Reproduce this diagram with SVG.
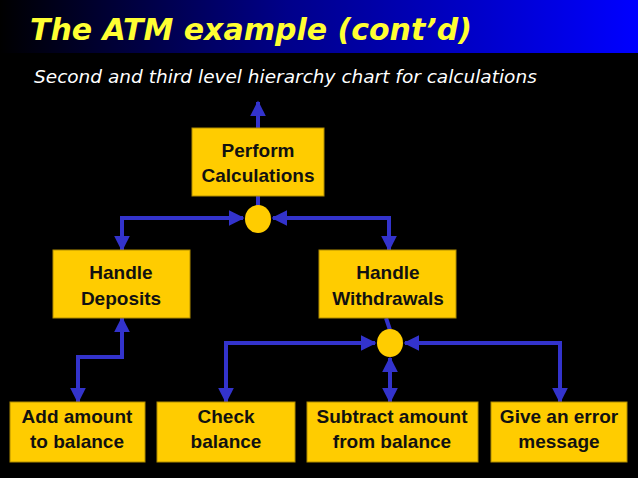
<svg xmlns="http://www.w3.org/2000/svg" width="638" height="478" viewBox="0 0 638 478">
<defs>
<linearGradient id="bar" x1="0" y1="0" x2="1" y2="0"><stop offset="0" stop-color="#000000"/><stop offset="0.45" stop-color="#00008a"/><stop offset="1" stop-color="#0000ff"/></linearGradient>
<marker id="ah" viewBox="0 0 10 10" refX="9" refY="5" markerWidth="4" markerHeight="4" orient="auto-start-reverse"><path d="M0,0 L10,5 L0,10 z" fill="#3333cc"/></marker>
<style>
.box{fill:#ffcc00;stroke:#b08c00;stroke-width:1}
.t{font-family:"Liberation Sans",Arial,sans-serif;font-weight:bold;font-size:19px;fill:#111;text-anchor:middle}
.c{fill:none;stroke:#3333cc;stroke-width:4}
.dot{fill:#ffcc00}
</style>
</defs>
<rect width="638" height="478" fill="#000"/>
<rect width="638" height="53" fill="url(#bar)"/>
<text x="30" y="40" font-family="'DejaVu Sans',Verdana,sans-serif" font-weight="bold" font-style="italic" font-size="30" fill="#ffff33">The ATM example (cont’d)</text>
<text x="34" y="83" font-family="'DejaVu Sans',Verdana,sans-serif" font-style="italic" font-size="18.5" fill="#fff">Second and third level hierarchy chart for calculations</text>
<g id="connectors">
<path class="c" d="M258,128 V102" marker-end="url(#ah)"/>
<path class="c" d="M258,196 V206"/>
<path class="c" d="M122,250 V218 H243" marker-start="url(#ah)" marker-end="url(#ah)"/>
<path class="c" d="M389,250 V218 H273" marker-start="url(#ah)" marker-end="url(#ah)"/>
<path class="c" d="M386,318 L390,330"/>
<path class="c" d="M226,402 V343 H375" marker-start="url(#ah)" marker-end="url(#ah)"/>
<path class="c" d="M560,402 V343 H405" marker-start="url(#ah)" marker-end="url(#ah)"/>
<path class="c" d="M390,402 V358" marker-start="url(#ah)" marker-end="url(#ah)"/>
<path class="c" d="M78,402 V357 H122 V318" marker-start="url(#ah)" marker-end="url(#ah)"/>
<ellipse class="dot" cx="258" cy="219" rx="13" ry="14"/>
<ellipse class="dot" cx="390" cy="343" rx="13" ry="14"/>
</g>
<g id="perform"><rect class="box" x="192" y="128" width="132" height="68"/><text class="t" x="258" y="157">Perform</text><text class="t" x="258" y="182">Calculations</text></g>
<g id="deposits"><rect class="box" x="53" y="250" width="137" height="68"/><text class="t" x="121" y="279">Handle</text><text class="t" x="121" y="305">Deposits</text></g>
<g id="withdrawals"><rect class="box" x="319" y="250" width="137" height="68"/><text class="t" x="388" y="279">Handle</text><text class="t" x="388" y="305">Withdrawals</text></g>
<g id="add"><rect class="box" x="10" y="402" width="135" height="60"/><text class="t" x="77" y="423">Add amount</text><text class="t" x="77" y="448">to balance</text></g>
<g id="check"><rect class="box" x="157" y="402" width="138" height="60"/><text class="t" x="226" y="423">Check</text><text class="t" x="226" y="448">balance</text></g>
<g id="subtract"><rect class="box" x="307" y="402" width="171" height="60"/><text class="t" x="392" y="423">Subtract amount</text><text class="t" x="392" y="448">from balance</text></g>
<g id="error"><rect class="box" x="491" y="402" width="136" height="60"/><text class="t" x="559" y="423">Give an error</text><text class="t" x="559" y="448">message</text></g>
</svg>
